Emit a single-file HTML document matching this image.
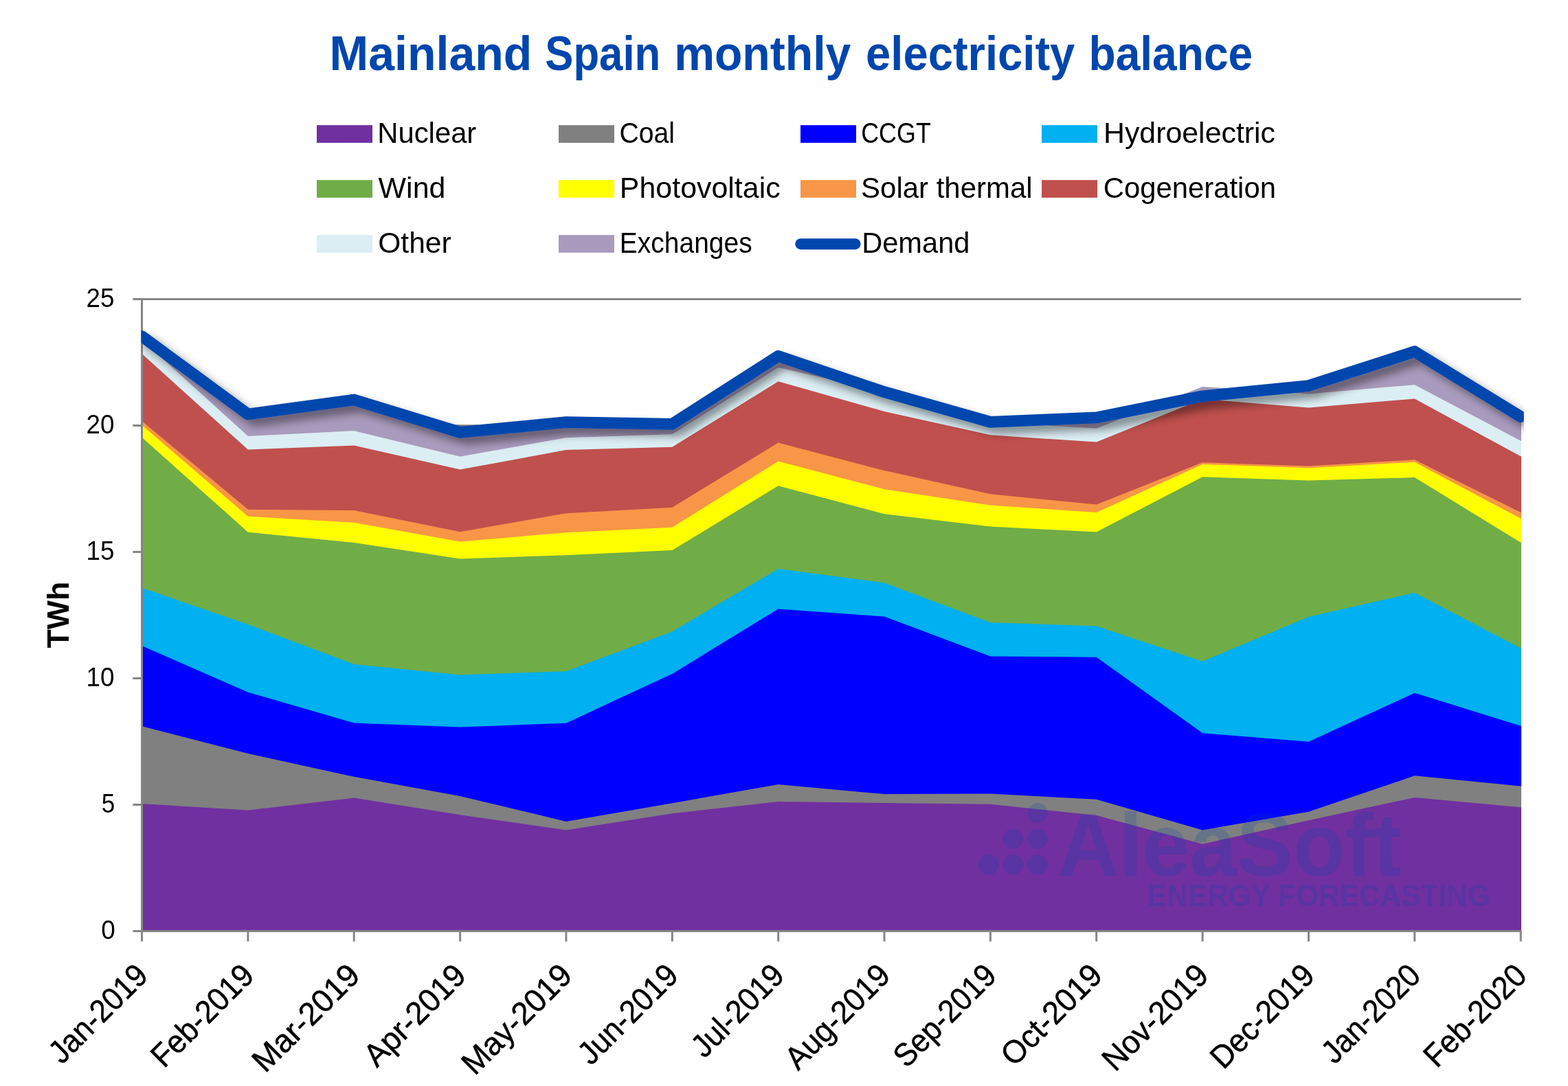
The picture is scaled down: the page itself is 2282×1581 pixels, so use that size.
<!DOCTYPE html>
<html lang="en"><head><meta charset="utf-8"><title>Mainland Spain monthly electricity balance</title>
<style>html,body{margin:0;padding:0;background:#fff}body{width:2282px;height:1581px}svg{display:block}text{font-family:"Liberation Sans",sans-serif}</style>
</head><body>
<svg width="2282" height="1581" viewBox="0 0 2282 1581">
<defs>
<filter id="sh" filterUnits="userSpaceOnUse" x="150" y="400" width="2132" height="400"><feGaussianBlur in="SourceAlpha" stdDeviation="6.3"/><feOffset dx="9.5" dy="9"/><feComponentTransfer><feFuncA type="linear" slope="0.44"/></feComponentTransfer><feMerge><feMergeNode/><feMergeNode in="SourceGraphic"/></feMerge></filter>
<clipPath id="cp"><rect x="206.5" y="430" width="2007.5" height="925.5"/></clipPath>
<clipPath id="cl"><rect x="205.4" y="400" width="2012.4" height="955.5"/></clipPath>
</defs>
<rect width="2282" height="1581" fill="#fff"/>
<text id="title" y="101.8" font-size="69.5" font-weight="bold" fill="#0046AD"><tspan x="479.55" textLength="294.80" lengthAdjust="spacingAndGlyphs">Mainland</tspan> <tspan x="793.24" textLength="168.05" lengthAdjust="spacingAndGlyphs">Spain</tspan> <tspan x="981.17" textLength="257.21" lengthAdjust="spacingAndGlyphs">monthly</tspan> <tspan x="1260.06" textLength="304.32" lengthAdjust="spacingAndGlyphs">electricity</tspan> <tspan x="1584.49" textLength="238.70" lengthAdjust="spacingAndGlyphs">balance</tspan></text>
<g id="legend" font-size="41.9" fill="#000">
<rect x="461" y="182.2" width="81" height="25.7" fill="#7030A0"/>
<text x="549.34" y="208.2" textLength="143.97" lengthAdjust="spacingAndGlyphs">Nuclear</text>
<rect x="813" y="182.2" width="81" height="25.7" fill="#808080"/>
<text x="901.46" y="208.2" textLength="80.52" lengthAdjust="spacingAndGlyphs">Coal</text>
<rect x="1165" y="182.2" width="81" height="25.7" fill="#0000FF"/>
<text x="1253.22" y="208.2" textLength="101.59" lengthAdjust="spacingAndGlyphs">CCGT</text>
<rect x="1516" y="182.2" width="81" height="25.7" fill="#00B0F0"/>
<text x="1605.95" y="208.2" textLength="250.12" lengthAdjust="spacingAndGlyphs">Hydroelectric</text>
<rect x="461" y="262.1" width="81" height="25.7" fill="#70AD47"/>
<text x="550.60" y="288.1" textLength="97.81" lengthAdjust="spacingAndGlyphs">Wind</text>
<rect x="813" y="262.1" width="81" height="25.7" fill="#FFFF00"/>
<text x="901.85" y="288.1" textLength="233.82" lengthAdjust="spacingAndGlyphs">Photovoltaic</text>
<rect x="1165" y="262.1" width="81" height="25.7" fill="#F79646"/>
<text x="1253.09" y="288.1" textLength="249.48" lengthAdjust="spacingAndGlyphs">Solar thermal</text>
<rect x="1516" y="262.1" width="81" height="25.7" fill="#C0504D"/>
<text x="1605.74" y="288.1" textLength="251.21" lengthAdjust="spacingAndGlyphs">Cogeneration</text>
<rect x="461" y="342.1" width="81" height="25.7" fill="#DBEEF4"/>
<text x="550.20" y="368.1" textLength="106.50" lengthAdjust="spacingAndGlyphs">Other</text>
<rect x="813" y="342.1" width="81" height="25.7" fill="#A99BBD"/>
<text x="901.86" y="368.1" textLength="192.76" lengthAdjust="spacingAndGlyphs">Exchanges</text>
<line x1="1165.3" y1="355.2" x2="1244.6" y2="355.2" stroke="#0046AD" stroke-width="16" stroke-linecap="round"/>
<text x="1254.15" y="368.1" textLength="157.29" lengthAdjust="spacingAndGlyphs">Demand</text>
</g>
<g id="areas" clip-path="url(#cp)">
<polygon fill="#DBEEF4" points="206.5,1355.5 206.5,495.0 360.9,635.1 515.2,627.2 669.6,664.8 823.9,637.3 978.3,632.3 1132.7,535.0 1287.0,570.7 1441.4,614.4 1595.7,623.8 1750.1,562.9 1904.5,573.5 2058.8,560.2 2213.2,641.7 2214.2,641.7 2214.2,1355.5"/>
<polygon fill="#C0504D" points="206.5,1355.5 206.5,514.9 360.9,654.6 515.2,648.6 669.6,683.5 823.9,655.1 978.3,650.7 1132.7,555.2 1287.0,598.9 1441.4,633.3 1595.7,643.6 1750.1,581.0 1904.5,593.6 2058.8,580.4 2213.2,664.3 2214.2,664.3 2214.2,1355.5"/>
<polygon fill="#F79646" points="206.5,1355.5 206.5,613.0 360.9,741.8 515.2,743.0 669.6,774.3 823.9,747.2 978.3,738.8 1132.7,644.6 1287.0,685.1 1441.4,719.3 1595.7,734.5 1750.1,673.3 1904.5,678.5 2058.8,669.3 2213.2,746.1 2214.2,746.1 2214.2,1355.5"/>
<polygon fill="#FFFF00" points="206.5,1355.5 206.5,618.8 360.9,751.8 515.2,760.8 669.6,788.5 823.9,775.3 978.3,767.7 1132.7,671.4 1287.0,712.2 1441.4,735.6 1595.7,746.1 1750.1,675.9 1904.5,681.2 2058.8,672.7 2213.2,754.8 2214.2,754.8 2214.2,1355.5"/>
<polygon fill="#70AD47" points="206.5,1355.5 206.5,636.7 360.9,774.7 515.2,790.0 669.6,813.4 823.9,808.2 978.3,801.1 1132.7,707.2 1287.0,748.2 1441.4,766.6 1595.7,774.5 1750.1,694.3 1904.5,699.6 2058.8,695.1 2213.2,789.8 2214.2,789.8 2214.2,1355.5"/>
<polygon fill="#00B0F0" points="206.5,1355.5 206.5,855.7 360.9,909.1 515.2,967.0 669.6,982.6 823.9,977.2 978.3,919.4 1132.7,827.9 1287.0,848.5 1441.4,906.2 1595.7,911.5 1750.1,962.8 1904.5,898.1 2058.8,862.9 2213.2,943.6 2214.2,943.6 2214.2,1355.5"/>
<polygon fill="#0000FF" points="206.5,1355.5 206.5,940.2 360.9,1007.7 515.2,1052.4 669.6,1058.6 823.9,1052.7 978.3,980.9 1132.7,886.5 1287.0,897.6 1441.4,955.4 1595.7,956.7 1750.1,1067.2 1904.5,1079.8 2058.8,1008.8 2213.2,1056.7 2214.2,1056.7 2214.2,1355.5"/>
<polygon fill="#808080" points="206.5,1355.5 206.5,1057.2 360.9,1097.1 515.2,1130.8 669.6,1158.9 823.9,1196.0 978.3,1169.2 1132.7,1142.1 1287.0,1156.0 1441.4,1155.4 1595.7,1163.8 1750.1,1208.4 1904.5,1181.8 2058.8,1129.3 2213.2,1144.5 2214.2,1144.5 2214.2,1355.5"/>
<polygon fill="#7030A0" points="206.5,1355.5 206.5,1170.0 360.9,1179.4 515.2,1161.6 669.6,1186.3 823.9,1208.4 978.3,1184.2 1132.7,1167.1 1287.0,1168.9 1441.4,1170.8 1595.7,1187.0 1750.1,1228.7 1904.5,1194.3 2058.8,1161.0 2213.2,1175.3 2214.2,1175.3 2214.2,1355.5"/>
<polygon fill="#A99BBD" fill-rule="nonzero" points="206.5,489.6 360.9,603.0 515.2,582.0 669.6,629.4 823.9,614.7 978.3,617.3 1132.7,518.4 1287.0,570.7 1441.4,614.4 1595.7,607.9 1750.1,576.8 1904.5,561.6 2058.8,511.8 2213.2,606.6 2214.2,606.6 2214.2,641.7 2213.2,641.7 2058.8,560.2 1904.5,573.5 1750.1,562.9 1595.7,623.8 1441.4,614.4 1287.0,570.7 1132.7,535.0 978.3,632.3 823.9,637.3 669.6,664.8 515.2,627.2 360.9,635.1 206.5,495.0"/>
<polygon fill="#808080" points="659,618.2 696,618.2 696,621 670,622 659,621"/>
</g>
<g id="wm" fill="#0046AD" fill-opacity="0.2" font-weight="bold">
<circle cx="1438.5" cy="1258.8" r="14.6"/>
<circle cx="1474.3" cy="1221.2" r="14.6"/>
<circle cx="1474.3" cy="1258.8" r="14.6"/>
<circle cx="1510.1" cy="1183.6" r="14.6"/>
<circle cx="1510.1" cy="1221.2" r="14.6"/>
<circle cx="1510.1" cy="1258.8" r="14.6"/>
<text x="1539.57" y="1274.6" font-size="130" textLength="500.03" lengthAdjust="spacingAndGlyphs">AleaSoft</text>
<text x="1669.95" y="1319" font-size="44" textLength="498.95" lengthAdjust="spacingAndGlyphs">ENERGY FORECASTING</text>
</g>
<g id="axes" stroke="#868686" stroke-width="3" fill="none">
<line x1="193.4" y1="435.5" x2="2213.6" y2="435.5"/>
<line x1="206.5" y1="434" x2="206.5" y2="1370.6"/>
<line x1="193.4" y1="1355.5" x2="2214.7" y2="1355.5"/>
<line x1="193.4" y1="1171.5" x2="206.5" y2="1171.5"/>
<line x1="193.4" y1="987.5" x2="206.5" y2="987.5"/>
<line x1="193.4" y1="803.5" x2="206.5" y2="803.5"/>
<line x1="193.4" y1="619.5" x2="206.5" y2="619.5"/>
<line x1="360.9" y1="1355.5" x2="360.9" y2="1370.6"/>
<line x1="515.2" y1="1355.5" x2="515.2" y2="1370.6"/>
<line x1="669.6" y1="1355.5" x2="669.6" y2="1370.6"/>
<line x1="823.9" y1="1355.5" x2="823.9" y2="1370.6"/>
<line x1="978.3" y1="1355.5" x2="978.3" y2="1370.6"/>
<line x1="1132.7" y1="1355.5" x2="1132.7" y2="1370.6"/>
<line x1="1287.0" y1="1355.5" x2="1287.0" y2="1370.6"/>
<line x1="1441.4" y1="1355.5" x2="1441.4" y2="1370.6"/>
<line x1="1595.7" y1="1355.5" x2="1595.7" y2="1370.6"/>
<line x1="1750.1" y1="1355.5" x2="1750.1" y2="1370.6"/>
<line x1="1904.5" y1="1355.5" x2="1904.5" y2="1370.6"/>
<line x1="2058.8" y1="1355.5" x2="2058.8" y2="1370.6"/>
<line x1="2213.2" y1="1355.5" x2="2213.2" y2="1370.6"/>
</g>
<g clip-path="url(#cl)"><polyline id="demand" points="206.5,489.6 360.9,603.0 515.2,582.0 669.6,629.4 823.9,614.7 978.3,617.3 1132.7,518.4 1287.0,570.7 1441.4,614.4 1595.7,607.9 1750.1,576.8 1904.5,561.6 2058.8,511.8 2213.2,606.6" fill="none" stroke="#0046AD" stroke-width="16.8" stroke-linejoin="round" stroke-linecap="round" filter="url(#sh)"/></g>
<g id="ylab" font-size="39.2" fill="#000">
<text x="147.25" y="1367.1" textLength="20.47" lengthAdjust="spacingAndGlyphs">0</text>
<text x="147.80" y="1183.1" textLength="19.52" lengthAdjust="spacingAndGlyphs">5</text>
<text x="125.48" y="999.1" textLength="40.92" lengthAdjust="spacingAndGlyphs">10</text>
<text x="125.48" y="815.1" textLength="40.92" lengthAdjust="spacingAndGlyphs">15</text>
<text x="125.48" y="631.1" textLength="40.92" lengthAdjust="spacingAndGlyphs">20</text>
<text x="125.48" y="447.1" textLength="40.92" lengthAdjust="spacingAndGlyphs">25</text>
</g>
<text id="ytitle" transform="translate(99.8,943.50) rotate(-90)" font-size="45" font-weight="bold" fill="#000" textLength="96.66" lengthAdjust="spacingAndGlyphs">TWh</text>
<g id="xlab" font-size="47" fill="#000" stroke="#000" stroke-width="0.5" text-anchor="end">
<text transform="translate(217.9,1422.8) rotate(-45)" textLength="181.0" lengthAdjust="spacingAndGlyphs">Jan-2019</text>
<text transform="translate(372.3,1422.8) rotate(-45)" textLength="188.9" lengthAdjust="spacingAndGlyphs">Feb-2019</text>
<text transform="translate(526.6,1422.8) rotate(-45)" textLength="198.8" lengthAdjust="spacingAndGlyphs">Mar-2019</text>
<text transform="translate(681.0,1422.8) rotate(-45)" textLength="187.5" lengthAdjust="spacingAndGlyphs">Apr-2019</text>
<text transform="translate(835.3,1422.8) rotate(-45)" textLength="204.0" lengthAdjust="spacingAndGlyphs">May-2019</text>
<text transform="translate(989.7,1422.8) rotate(-45)" textLength="183.3" lengthAdjust="spacingAndGlyphs">Jun-2019</text>
<text transform="translate(1144.1,1422.8) rotate(-45)" textLength="168.6" lengthAdjust="spacingAndGlyphs">Jul-2019</text>
<text transform="translate(1298.4,1422.8) rotate(-45)" textLength="193.5" lengthAdjust="spacingAndGlyphs">Aug-2019</text>
<text transform="translate(1452.8,1422.8) rotate(-45)" textLength="188.9" lengthAdjust="spacingAndGlyphs">Sep-2019</text>
<text transform="translate(1607.1,1422.8) rotate(-45)" textLength="185.8" lengthAdjust="spacingAndGlyphs">Oct-2019</text>
<text transform="translate(1761.5,1422.8) rotate(-45)" textLength="196.0" lengthAdjust="spacingAndGlyphs">Nov-2019</text>
<text transform="translate(1915.9,1422.8) rotate(-45)" textLength="191.6" lengthAdjust="spacingAndGlyphs">Dec-2019</text>
<text transform="translate(2070.2,1422.8) rotate(-45)" textLength="181.0" lengthAdjust="spacingAndGlyphs">Jan-2020</text>
<text transform="translate(2224.6,1422.8) rotate(-45)" textLength="188.9" lengthAdjust="spacingAndGlyphs">Feb-2020</text>
</g>
</svg>
</body></html>
